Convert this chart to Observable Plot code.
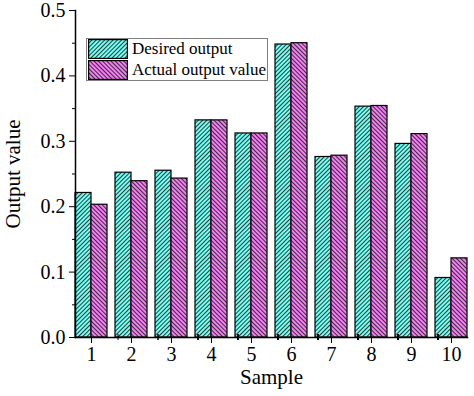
<!DOCTYPE html>
<html><head><meta charset="utf-8">
<script src="https://cdn.jsdelivr.net/npm/d3@7"></script>
<script src="https://cdn.jsdelivr.net/npm/@observablehq/plot@0.6"></script>
<style>
body{margin:0;background:#fff;}
#wrap{position:relative;width:474px;height:396px;font-family:"Liberation Serif","Times New Roman",serif;}
#legend{position:absolute;left:86px;top:38px;width:182px;height:43px;border:1px solid #808080;background:#fff;box-sizing:border-box;}
#legend .row{position:absolute;left:1px;height:20px;display:flex;align-items:center;}
#legend .row span{font-size:17px;color:#000;margin-left:4px;line-height:20px;white-space:nowrap;}
</style></head>
<body><div id="wrap"></div>
<script>
const samples = [1, 2, 3, 4, 5, 6, 7, 8, 9, 10];
const seriesNames = ["Desired output", "Actual output value"];
const desired = [0.221, 0.252, 0.255, 0.332, 0.312, 0.448, 0.276, 0.353, 0.296, 0.091];
const actual  = [0.203, 0.239, 0.243, 0.332, 0.312, 0.450, 0.278, 0.354, 0.311, 0.121];
const yTicks = [0, 0.1, 0.2, 0.3, 0.4, 0.5];
const yMinor = [0.05, 0.15, 0.25, 0.35, 0.45];
const patternIds = ["hatchCyan", "hatchMagenta"];

const data = samples.flatMap((s, i) => [
  {sample: s, series: seriesNames[0], value: desired[i]},
  {sample: s, series: seriesNames[1], value: actual[i]}
]);

// minor ticks between categories on the x axis, derived from the fx scale
function minorX(index, scales, values, dims) {
  const g = d3.create("svg:g");
  const fx = scales.fx;
  if (!fx || !fx.step) return g.node();
  const step = fx.step();
  const bw = fx.bandwidth();
  const dom = fx.domain();
  const y0 = dims.height - dims.marginBottom;
  for (let i = 1; i < dom.length; i++) {
    const b = fx(dom[i]) - (step - bw) / 2;
    g.append("line").attr("x1", b).attr("x2", b).attr("y1", y0 - 3).attr("y2", y0 + 3).attr("stroke", "#000");
  }
  return g.node();
}

const chart = Plot.plot({
  width: 474, height: 396,
  marginLeft: 68, marginRight: 1, marginTop: 10, marginBottom: 59,
  style: {fontFamily: "'Liberation Serif','Times New Roman',serif", fontSize: "20px", color: "#000", background: "#fff"},
  fx: {domain: samples, paddingInner: 0.2, paddingOuter: 0.1, label: null},
  x: {domain: seriesNames, padding: 0, axis: null},
  y: {domain: [0, 0.5]},
  color: {domain: seriesNames, range: patternIds.map(id => `url(#${id})`)},
  marks: [
    Plot.barY(data, {fx: "sample", x: "series", y: "value", fill: "series", stroke: "#000", strokeWidth: 1.2}),
    Plot.axisY({ticks: yTicks, tickSize: 6, tickPadding: 4, tickFormat: d => d.toFixed(1), fontSize: 20,
      label: "Output value", labelAnchor: "center", labelArrow: "none", labelOffset: 70}),
    Plot.axisY({ticks: yMinor, tickSize: 3, tickFormat: () => "", label: null}),
    Plot.axisFx({anchor: "bottom", tickSize: 6, tickPadding: 3, fontSize: 20, label: "Sample", labelAnchor: "center", labelArrow: "none", labelOffset: 46}),
    Plot.frame({anchor: "bottom", facet: "super", stroke: "#000", strokeWidth: 1.5}),
    Plot.frame({anchor: "left", facet: "super", stroke: "#000", strokeWidth: 1.5}),
    Plot.marks(minorX)
  ]
});

// hatch patterns
const svg = d3.select(chart.tagName.toLowerCase() === "svg" ? chart : chart.querySelector("svg"));
const defs = svg.insert("defs", ":first-child");
function addPattern(id, bg, angle) {
  const p = defs.append("pattern").attr("id", id).attr("patternUnits", "userSpaceOnUse")
    .attr("width", 3).attr("height", 3).attr("patternTransform", `rotate(${angle})`);
  p.append("rect").attr("width", 3).attr("height", 3).attr("fill", bg);
  p.append("line").attr("x1", 0.5).attr("x2", 0.5).attr("y1", 0).attr("y2", 3).attr("stroke", "#1a1a1a").attr("stroke-width", 0.85);
}
addPattern(patternIds[0], "#72fff4", 45);
addPattern(patternIds[1], "#f47ef4", -45);
svg.selectAll("[aria-label='y-axis label'] text, [aria-label='fx-axis label'] text").style("font-size", "21px");

const wrap = document.getElementById("wrap");
wrap.appendChild(chart);

// legend
const legend = document.createElement("div");
legend.id = "legend";
seriesNames.forEach((name, i) => {
  const row = document.createElement("div");
  row.className = "row";
  row.style.top = (i * 21) + "px";
  row.innerHTML = `<svg width="40" height="20"><rect x="0.6" y="0.6" width="38.8" height="18.8" fill="url(#${patternIds[i]})" stroke="#000" stroke-width="1.2"/></svg><span>${name}</span>`;
  legend.appendChild(row);
});
wrap.appendChild(legend);
</script></body></html>
